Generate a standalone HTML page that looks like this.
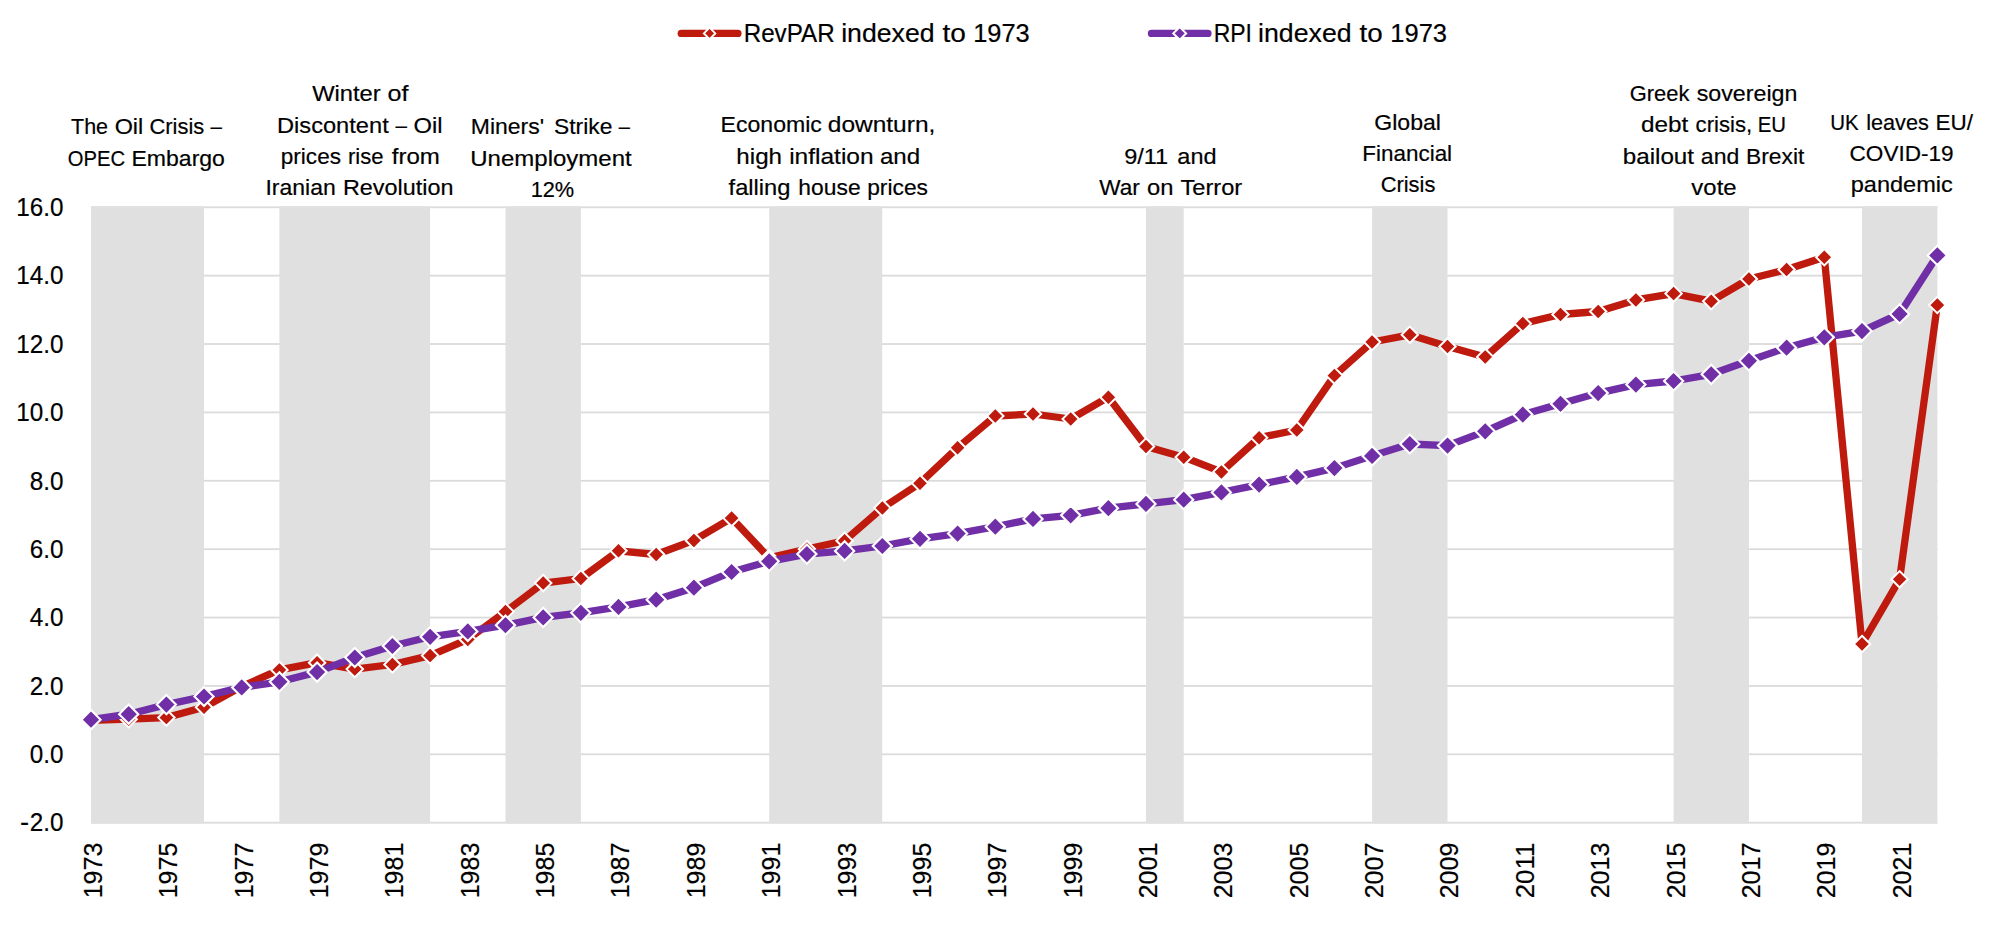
<!DOCTYPE html>
<html lang="en"><head><meta charset="utf-8"><title>RevPAR vs RPI indexed to 1973</title>
<style>html,body{margin:0;padding:0;background:#fff}svg{display:block}text{font-family:"Liberation Sans",Arial,sans-serif;fill:#000;stroke:#000;stroke-width:0.2px}</style></head><body>
<svg width="2000" height="932" viewBox="0 0 2000 932">
<rect width="2000" height="932" fill="#fff"/>
<rect x="91.0" y="821.78" width="1846.5" height="1.8" fill="#dbdbdb"/>
<rect x="91.0" y="753.40" width="1846.5" height="1.8" fill="#dbdbdb"/>
<rect x="91.0" y="685.02" width="1846.5" height="1.8" fill="#dbdbdb"/>
<rect x="91.0" y="616.64" width="1846.5" height="1.8" fill="#dbdbdb"/>
<rect x="91.0" y="548.26" width="1846.5" height="1.8" fill="#dbdbdb"/>
<rect x="91.0" y="479.88" width="1846.5" height="1.8" fill="#dbdbdb"/>
<rect x="91.0" y="411.50" width="1846.5" height="1.8" fill="#dbdbdb"/>
<rect x="91.0" y="343.12" width="1846.5" height="1.8" fill="#dbdbdb"/>
<rect x="91.0" y="274.74" width="1846.5" height="1.8" fill="#dbdbdb"/>
<rect x="91.0" y="206.36" width="1846.5" height="1.8" fill="#dbdbdb"/>
<rect x="91.0" y="206.4" width="113.0" height="617.2" fill="#e0e0e0"/>
<rect x="279.4" y="206.4" width="150.7" height="617.2" fill="#e0e0e0"/>
<rect x="505.5" y="206.4" width="75.4" height="617.2" fill="#e0e0e0"/>
<rect x="769.2" y="206.4" width="113.0" height="617.2" fill="#e0e0e0"/>
<rect x="1146.0" y="206.4" width="37.7" height="617.2" fill="#e0e0e0"/>
<rect x="1372.1" y="206.4" width="75.4" height="617.2" fill="#e0e0e0"/>
<rect x="1673.6" y="206.4" width="75.4" height="617.2" fill="#e0e0e0"/>
<rect x="1862.0" y="206.4" width="75.4" height="617.2" fill="#e0e0e0"/>
<text y="831.4" font-size="26"><tspan x="19.9" textLength="9.1" lengthAdjust="spacingAndGlyphs">-</tspan><tspan x="29.78" textLength="33.72" lengthAdjust="spacingAndGlyphs">2.0</tspan></text>
<text x="29.78" y="763.0" font-size="26" textLength="33.72" lengthAdjust="spacingAndGlyphs">0.0</text>
<text x="29.78" y="694.6" font-size="26" textLength="33.72" lengthAdjust="spacingAndGlyphs">2.0</text>
<text x="29.78" y="626.2" font-size="26" textLength="33.72" lengthAdjust="spacingAndGlyphs">4.0</text>
<text x="29.78" y="557.9" font-size="26" textLength="33.72" lengthAdjust="spacingAndGlyphs">6.0</text>
<text x="29.78" y="489.5" font-size="26" textLength="33.72" lengthAdjust="spacingAndGlyphs">8.0</text>
<text x="16.29" y="421.1" font-size="26" textLength="47.21" lengthAdjust="spacingAndGlyphs">10.0</text>
<text x="16.29" y="352.7" font-size="26" textLength="47.21" lengthAdjust="spacingAndGlyphs">12.0</text>
<text x="16.29" y="284.3" font-size="26" textLength="47.21" lengthAdjust="spacingAndGlyphs">14.0</text>
<text x="16.29" y="216.0" font-size="26" textLength="47.21" lengthAdjust="spacingAndGlyphs">16.0</text>
<text transform="translate(101.9 898.3) rotate(-90)" font-size="26" textLength="55.6" lengthAdjust="spacingAndGlyphs">1973</text>
<text transform="translate(177.3 898.3) rotate(-90)" font-size="26" textLength="55.6" lengthAdjust="spacingAndGlyphs">1975</text>
<text transform="translate(252.6 898.3) rotate(-90)" font-size="26" textLength="55.6" lengthAdjust="spacingAndGlyphs">1977</text>
<text transform="translate(328.0 898.3) rotate(-90)" font-size="26" textLength="55.6" lengthAdjust="spacingAndGlyphs">1979</text>
<text transform="translate(403.3 898.3) rotate(-90)" font-size="26" textLength="55.6" lengthAdjust="spacingAndGlyphs">1981</text>
<text transform="translate(478.7 898.3) rotate(-90)" font-size="26" textLength="55.6" lengthAdjust="spacingAndGlyphs">1983</text>
<text transform="translate(554.1 898.3) rotate(-90)" font-size="26" textLength="55.6" lengthAdjust="spacingAndGlyphs">1985</text>
<text transform="translate(629.4 898.3) rotate(-90)" font-size="26" textLength="55.6" lengthAdjust="spacingAndGlyphs">1987</text>
<text transform="translate(704.8 898.3) rotate(-90)" font-size="26" textLength="55.6" lengthAdjust="spacingAndGlyphs">1989</text>
<text transform="translate(780.1 898.3) rotate(-90)" font-size="26" textLength="55.6" lengthAdjust="spacingAndGlyphs">1991</text>
<text transform="translate(855.5 898.3) rotate(-90)" font-size="26" textLength="55.6" lengthAdjust="spacingAndGlyphs">1993</text>
<text transform="translate(930.9 898.3) rotate(-90)" font-size="26" textLength="55.6" lengthAdjust="spacingAndGlyphs">1995</text>
<text transform="translate(1006.2 898.3) rotate(-90)" font-size="26" textLength="55.6" lengthAdjust="spacingAndGlyphs">1997</text>
<text transform="translate(1081.6 898.3) rotate(-90)" font-size="26" textLength="55.6" lengthAdjust="spacingAndGlyphs">1999</text>
<text transform="translate(1156.9 898.3) rotate(-90)" font-size="26" textLength="55.6" lengthAdjust="spacingAndGlyphs">2001</text>
<text transform="translate(1232.3 898.3) rotate(-90)" font-size="26" textLength="55.6" lengthAdjust="spacingAndGlyphs">2003</text>
<text transform="translate(1307.7 898.3) rotate(-90)" font-size="26" textLength="55.6" lengthAdjust="spacingAndGlyphs">2005</text>
<text transform="translate(1383.0 898.3) rotate(-90)" font-size="26" textLength="55.6" lengthAdjust="spacingAndGlyphs">2007</text>
<text transform="translate(1458.4 898.3) rotate(-90)" font-size="26" textLength="55.6" lengthAdjust="spacingAndGlyphs">2009</text>
<text transform="translate(1533.7 898.3) rotate(-90)" font-size="26" textLength="55.6" lengthAdjust="spacingAndGlyphs">2011</text>
<text transform="translate(1609.1 898.3) rotate(-90)" font-size="26" textLength="55.6" lengthAdjust="spacingAndGlyphs">2013</text>
<text transform="translate(1684.5 898.3) rotate(-90)" font-size="26" textLength="55.6" lengthAdjust="spacingAndGlyphs">2015</text>
<text transform="translate(1759.8 898.3) rotate(-90)" font-size="26" textLength="55.6" lengthAdjust="spacingAndGlyphs">2017</text>
<text transform="translate(1835.2 898.3) rotate(-90)" font-size="26" textLength="55.6" lengthAdjust="spacingAndGlyphs">2019</text>
<text transform="translate(1910.5 898.3) rotate(-90)" font-size="26" textLength="55.6" lengthAdjust="spacingAndGlyphs">2021</text>
<path d="M91.0 720.3 L128.7 719.2 L166.4 717.6 L204.0 707.2 L241.7 686.5 L279.4 669.9 L317.1 662.7 L354.8 669.1 L392.4 664.5 L430.1 655.6 L467.8 639.4 L505.5 611.6 L543.2 583.1 L580.8 578.5 L618.5 550.8 L656.2 554.5 L693.9 540.4 L731.6 518.1 L769.2 557.9 L806.9 549.0 L844.6 540.8 L882.3 508.0 L920.0 483.2 L957.6 447.7 L995.3 416.0 L1033.0 414.0 L1070.7 419.0 L1108.4 397.2 L1146.0 446.5 L1183.7 457.2 L1221.4 471.9 L1259.1 437.7 L1296.8 430.0 L1334.4 375.6 L1372.1 342.0 L1409.8 334.8 L1447.5 346.5 L1485.2 356.9 L1522.8 323.6 L1560.5 314.5 L1598.2 311.5 L1635.9 299.9 L1673.6 293.6 L1711.2 301.2 L1748.9 279.0 L1786.6 269.5 L1824.3 257.2 L1862.0 644.0 L1899.6 579.3 L1937.3 305.1" fill="none" stroke="#be1a0e" stroke-width="7.3" stroke-linejoin="round" stroke-linecap="round"/>
<path d="M91.0 712.1 L99.2 720.3 L91.0 728.5 L82.8 720.3Z" fill="#be1a0e" stroke="#fff" stroke-width="2.0" stroke-linejoin="miter"/>
<path d="M128.7 711.0 L136.9 719.2 L128.7 727.4 L120.5 719.2Z" fill="#be1a0e" stroke="#fff" stroke-width="2.0" stroke-linejoin="miter"/>
<path d="M166.4 709.4 L174.6 717.6 L166.4 725.8 L158.2 717.6Z" fill="#be1a0e" stroke="#fff" stroke-width="2.0" stroke-linejoin="miter"/>
<path d="M204.0 699.0 L212.2 707.2 L204.0 715.4 L195.8 707.2Z" fill="#be1a0e" stroke="#fff" stroke-width="2.0" stroke-linejoin="miter"/>
<path d="M241.7 678.3 L249.9 686.5 L241.7 694.7 L233.5 686.5Z" fill="#be1a0e" stroke="#fff" stroke-width="2.0" stroke-linejoin="miter"/>
<path d="M279.4 661.7 L287.6 669.9 L279.4 678.1 L271.2 669.9Z" fill="#be1a0e" stroke="#fff" stroke-width="2.0" stroke-linejoin="miter"/>
<path d="M317.1 654.5 L325.3 662.7 L317.1 670.9 L308.9 662.7Z" fill="#be1a0e" stroke="#fff" stroke-width="2.0" stroke-linejoin="miter"/>
<path d="M354.8 660.9 L363.0 669.1 L354.8 677.3 L346.6 669.1Z" fill="#be1a0e" stroke="#fff" stroke-width="2.0" stroke-linejoin="miter"/>
<path d="M392.4 656.3 L400.6 664.5 L392.4 672.7 L384.2 664.5Z" fill="#be1a0e" stroke="#fff" stroke-width="2.0" stroke-linejoin="miter"/>
<path d="M430.1 647.4 L438.3 655.6 L430.1 663.8 L421.9 655.6Z" fill="#be1a0e" stroke="#fff" stroke-width="2.0" stroke-linejoin="miter"/>
<path d="M467.8 631.2 L476.0 639.4 L467.8 647.6 L459.6 639.4Z" fill="#be1a0e" stroke="#fff" stroke-width="2.0" stroke-linejoin="miter"/>
<path d="M505.5 603.4 L513.7 611.6 L505.5 619.8 L497.3 611.6Z" fill="#be1a0e" stroke="#fff" stroke-width="2.0" stroke-linejoin="miter"/>
<path d="M543.2 574.9 L551.4 583.1 L543.2 591.3 L535.0 583.1Z" fill="#be1a0e" stroke="#fff" stroke-width="2.0" stroke-linejoin="miter"/>
<path d="M580.8 570.3 L589.0 578.5 L580.8 586.7 L572.6 578.5Z" fill="#be1a0e" stroke="#fff" stroke-width="2.0" stroke-linejoin="miter"/>
<path d="M618.5 542.6 L626.7 550.8 L618.5 559.0 L610.3 550.8Z" fill="#be1a0e" stroke="#fff" stroke-width="2.0" stroke-linejoin="miter"/>
<path d="M656.2 546.3 L664.4 554.5 L656.2 562.7 L648.0 554.5Z" fill="#be1a0e" stroke="#fff" stroke-width="2.0" stroke-linejoin="miter"/>
<path d="M693.9 532.2 L702.1 540.4 L693.9 548.6 L685.7 540.4Z" fill="#be1a0e" stroke="#fff" stroke-width="2.0" stroke-linejoin="miter"/>
<path d="M731.6 509.9 L739.8 518.1 L731.6 526.3 L723.4 518.1Z" fill="#be1a0e" stroke="#fff" stroke-width="2.0" stroke-linejoin="miter"/>
<path d="M769.2 549.7 L777.4 557.9 L769.2 566.1 L761.0 557.9Z" fill="#be1a0e" stroke="#fff" stroke-width="2.0" stroke-linejoin="miter"/>
<path d="M806.9 540.8 L815.1 549.0 L806.9 557.2 L798.7 549.0Z" fill="#be1a0e" stroke="#fff" stroke-width="2.0" stroke-linejoin="miter"/>
<path d="M844.6 532.6 L852.8 540.8 L844.6 549.0 L836.4 540.8Z" fill="#be1a0e" stroke="#fff" stroke-width="2.0" stroke-linejoin="miter"/>
<path d="M882.3 499.8 L890.5 508.0 L882.3 516.2 L874.1 508.0Z" fill="#be1a0e" stroke="#fff" stroke-width="2.0" stroke-linejoin="miter"/>
<path d="M920.0 475.0 L928.2 483.2 L920.0 491.4 L911.8 483.2Z" fill="#be1a0e" stroke="#fff" stroke-width="2.0" stroke-linejoin="miter"/>
<path d="M957.6 439.5 L965.8 447.7 L957.6 455.9 L949.4 447.7Z" fill="#be1a0e" stroke="#fff" stroke-width="2.0" stroke-linejoin="miter"/>
<path d="M995.3 407.8 L1003.5 416.0 L995.3 424.2 L987.1 416.0Z" fill="#be1a0e" stroke="#fff" stroke-width="2.0" stroke-linejoin="miter"/>
<path d="M1033.0 405.8 L1041.2 414.0 L1033.0 422.2 L1024.8 414.0Z" fill="#be1a0e" stroke="#fff" stroke-width="2.0" stroke-linejoin="miter"/>
<path d="M1070.7 410.8 L1078.9 419.0 L1070.7 427.2 L1062.5 419.0Z" fill="#be1a0e" stroke="#fff" stroke-width="2.0" stroke-linejoin="miter"/>
<path d="M1108.4 389.0 L1116.6 397.2 L1108.4 405.4 L1100.2 397.2Z" fill="#be1a0e" stroke="#fff" stroke-width="2.0" stroke-linejoin="miter"/>
<path d="M1146.0 438.3 L1154.2 446.5 L1146.0 454.7 L1137.8 446.5Z" fill="#be1a0e" stroke="#fff" stroke-width="2.0" stroke-linejoin="miter"/>
<path d="M1183.7 449.0 L1191.9 457.2 L1183.7 465.4 L1175.5 457.2Z" fill="#be1a0e" stroke="#fff" stroke-width="2.0" stroke-linejoin="miter"/>
<path d="M1221.4 463.7 L1229.6 471.9 L1221.4 480.1 L1213.2 471.9Z" fill="#be1a0e" stroke="#fff" stroke-width="2.0" stroke-linejoin="miter"/>
<path d="M1259.1 429.5 L1267.3 437.7 L1259.1 445.9 L1250.9 437.7Z" fill="#be1a0e" stroke="#fff" stroke-width="2.0" stroke-linejoin="miter"/>
<path d="M1296.8 421.8 L1305.0 430.0 L1296.8 438.2 L1288.6 430.0Z" fill="#be1a0e" stroke="#fff" stroke-width="2.0" stroke-linejoin="miter"/>
<path d="M1334.4 367.4 L1342.6 375.6 L1334.4 383.8 L1326.2 375.6Z" fill="#be1a0e" stroke="#fff" stroke-width="2.0" stroke-linejoin="miter"/>
<path d="M1372.1 333.8 L1380.3 342.0 L1372.1 350.2 L1363.9 342.0Z" fill="#be1a0e" stroke="#fff" stroke-width="2.0" stroke-linejoin="miter"/>
<path d="M1409.8 326.6 L1418.0 334.8 L1409.8 343.0 L1401.6 334.8Z" fill="#be1a0e" stroke="#fff" stroke-width="2.0" stroke-linejoin="miter"/>
<path d="M1447.5 338.3 L1455.7 346.5 L1447.5 354.7 L1439.3 346.5Z" fill="#be1a0e" stroke="#fff" stroke-width="2.0" stroke-linejoin="miter"/>
<path d="M1485.2 348.7 L1493.4 356.9 L1485.2 365.1 L1477.0 356.9Z" fill="#be1a0e" stroke="#fff" stroke-width="2.0" stroke-linejoin="miter"/>
<path d="M1522.8 315.4 L1531.0 323.6 L1522.8 331.8 L1514.6 323.6Z" fill="#be1a0e" stroke="#fff" stroke-width="2.0" stroke-linejoin="miter"/>
<path d="M1560.5 306.3 L1568.7 314.5 L1560.5 322.7 L1552.3 314.5Z" fill="#be1a0e" stroke="#fff" stroke-width="2.0" stroke-linejoin="miter"/>
<path d="M1598.2 303.3 L1606.4 311.5 L1598.2 319.7 L1590.0 311.5Z" fill="#be1a0e" stroke="#fff" stroke-width="2.0" stroke-linejoin="miter"/>
<path d="M1635.9 291.7 L1644.1 299.9 L1635.9 308.1 L1627.7 299.9Z" fill="#be1a0e" stroke="#fff" stroke-width="2.0" stroke-linejoin="miter"/>
<path d="M1673.6 285.4 L1681.8 293.6 L1673.6 301.8 L1665.4 293.6Z" fill="#be1a0e" stroke="#fff" stroke-width="2.0" stroke-linejoin="miter"/>
<path d="M1711.2 293.1 L1719.4 301.2 L1711.2 309.4 L1703.0 301.2Z" fill="#be1a0e" stroke="#fff" stroke-width="2.0" stroke-linejoin="miter"/>
<path d="M1748.9 270.8 L1757.1 279.0 L1748.9 287.2 L1740.7 279.0Z" fill="#be1a0e" stroke="#fff" stroke-width="2.0" stroke-linejoin="miter"/>
<path d="M1786.6 261.3 L1794.8 269.5 L1786.6 277.7 L1778.4 269.5Z" fill="#be1a0e" stroke="#fff" stroke-width="2.0" stroke-linejoin="miter"/>
<path d="M1824.3 249.0 L1832.5 257.2 L1824.3 265.4 L1816.1 257.2Z" fill="#be1a0e" stroke="#fff" stroke-width="2.0" stroke-linejoin="miter"/>
<path d="M1862.0 635.8 L1870.2 644.0 L1862.0 652.2 L1853.8 644.0Z" fill="#be1a0e" stroke="#fff" stroke-width="2.0" stroke-linejoin="miter"/>
<path d="M1899.6 571.1 L1907.8 579.3 L1899.6 587.5 L1891.4 579.3Z" fill="#be1a0e" stroke="#fff" stroke-width="2.0" stroke-linejoin="miter"/>
<path d="M1937.3 296.9 L1945.5 305.1 L1937.3 313.2 L1929.1 305.1Z" fill="#be1a0e" stroke="#fff" stroke-width="2.0" stroke-linejoin="miter"/>
<path d="M91.0 719.7 L128.7 714.2 L166.4 704.6 L204.0 696.5 L241.7 687.4 L279.4 681.8 L317.1 672.1 L354.8 657.5 L392.4 646.0 L430.1 636.8 L467.8 631.4 L505.5 625.2 L543.2 617.4 L580.8 612.8 L618.5 606.9 L656.2 599.7 L693.9 587.7 L731.6 572.0 L769.2 561.3 L806.9 554.1 L844.6 550.9 L882.3 546.0 L920.0 538.8 L957.6 533.6 L995.3 526.7 L1033.0 518.9 L1070.7 515.3 L1108.4 508.2 L1146.0 503.9 L1183.7 499.7 L1221.4 492.4 L1259.1 484.6 L1296.8 476.9 L1334.4 468.1 L1372.1 455.9 L1409.8 444.0 L1447.5 445.6 L1485.2 431.3 L1522.8 414.6 L1560.5 403.8 L1598.2 393.1 L1635.9 384.6 L1673.6 381.0 L1711.2 374.3 L1748.9 360.8 L1786.6 347.7 L1824.3 337.3 L1862.0 331.1 L1899.6 313.9 L1937.3 255.4" fill="none" stroke="#702fa6" stroke-width="7.3" stroke-linejoin="round" stroke-linecap="round"/>
<path d="M91.0 710.1 L100.6 719.7 L91.0 729.3 L81.4 719.7Z" fill="#702fa6" stroke="#fff" stroke-width="2.1" stroke-linejoin="miter"/>
<path d="M128.7 704.6 L138.3 714.2 L128.7 723.8 L119.1 714.2Z" fill="#702fa6" stroke="#fff" stroke-width="2.1" stroke-linejoin="miter"/>
<path d="M166.4 695.0 L176.0 704.6 L166.4 714.2 L156.8 704.6Z" fill="#702fa6" stroke="#fff" stroke-width="2.1" stroke-linejoin="miter"/>
<path d="M204.0 686.9 L213.6 696.5 L204.0 706.1 L194.4 696.5Z" fill="#702fa6" stroke="#fff" stroke-width="2.1" stroke-linejoin="miter"/>
<path d="M241.7 677.8 L251.3 687.4 L241.7 697.0 L232.1 687.4Z" fill="#702fa6" stroke="#fff" stroke-width="2.1" stroke-linejoin="miter"/>
<path d="M279.4 672.2 L289.0 681.8 L279.4 691.4 L269.8 681.8Z" fill="#702fa6" stroke="#fff" stroke-width="2.1" stroke-linejoin="miter"/>
<path d="M317.1 662.5 L326.7 672.1 L317.1 681.7 L307.5 672.1Z" fill="#702fa6" stroke="#fff" stroke-width="2.1" stroke-linejoin="miter"/>
<path d="M354.8 647.9 L364.4 657.5 L354.8 667.1 L345.2 657.5Z" fill="#702fa6" stroke="#fff" stroke-width="2.1" stroke-linejoin="miter"/>
<path d="M392.4 636.4 L402.0 646.0 L392.4 655.6 L382.8 646.0Z" fill="#702fa6" stroke="#fff" stroke-width="2.1" stroke-linejoin="miter"/>
<path d="M430.1 627.2 L439.7 636.8 L430.1 646.4 L420.5 636.8Z" fill="#702fa6" stroke="#fff" stroke-width="2.1" stroke-linejoin="miter"/>
<path d="M467.8 621.8 L477.4 631.4 L467.8 641.0 L458.2 631.4Z" fill="#702fa6" stroke="#fff" stroke-width="2.1" stroke-linejoin="miter"/>
<path d="M505.5 615.6 L515.1 625.2 L505.5 634.8 L495.9 625.2Z" fill="#702fa6" stroke="#fff" stroke-width="2.1" stroke-linejoin="miter"/>
<path d="M543.2 607.8 L552.8 617.4 L543.2 627.0 L533.6 617.4Z" fill="#702fa6" stroke="#fff" stroke-width="2.1" stroke-linejoin="miter"/>
<path d="M580.8 603.2 L590.4 612.8 L580.8 622.4 L571.2 612.8Z" fill="#702fa6" stroke="#fff" stroke-width="2.1" stroke-linejoin="miter"/>
<path d="M618.5 597.3 L628.1 606.9 L618.5 616.5 L608.9 606.9Z" fill="#702fa6" stroke="#fff" stroke-width="2.1" stroke-linejoin="miter"/>
<path d="M656.2 590.1 L665.8 599.7 L656.2 609.3 L646.6 599.7Z" fill="#702fa6" stroke="#fff" stroke-width="2.1" stroke-linejoin="miter"/>
<path d="M693.9 578.1 L703.5 587.7 L693.9 597.3 L684.3 587.7Z" fill="#702fa6" stroke="#fff" stroke-width="2.1" stroke-linejoin="miter"/>
<path d="M731.6 562.4 L741.2 572.0 L731.6 581.6 L722.0 572.0Z" fill="#702fa6" stroke="#fff" stroke-width="2.1" stroke-linejoin="miter"/>
<path d="M769.2 551.7 L778.8 561.3 L769.2 570.9 L759.6 561.3Z" fill="#702fa6" stroke="#fff" stroke-width="2.1" stroke-linejoin="miter"/>
<path d="M806.9 544.5 L816.5 554.1 L806.9 563.7 L797.3 554.1Z" fill="#702fa6" stroke="#fff" stroke-width="2.1" stroke-linejoin="miter"/>
<path d="M844.6 541.3 L854.2 550.9 L844.6 560.5 L835.0 550.9Z" fill="#702fa6" stroke="#fff" stroke-width="2.1" stroke-linejoin="miter"/>
<path d="M882.3 536.4 L891.9 546.0 L882.3 555.6 L872.7 546.0Z" fill="#702fa6" stroke="#fff" stroke-width="2.1" stroke-linejoin="miter"/>
<path d="M920.0 529.2 L929.6 538.8 L920.0 548.4 L910.4 538.8Z" fill="#702fa6" stroke="#fff" stroke-width="2.1" stroke-linejoin="miter"/>
<path d="M957.6 524.0 L967.2 533.6 L957.6 543.2 L948.0 533.6Z" fill="#702fa6" stroke="#fff" stroke-width="2.1" stroke-linejoin="miter"/>
<path d="M995.3 517.1 L1004.9 526.7 L995.3 536.3 L985.7 526.7Z" fill="#702fa6" stroke="#fff" stroke-width="2.1" stroke-linejoin="miter"/>
<path d="M1033.0 509.3 L1042.6 518.9 L1033.0 528.5 L1023.4 518.9Z" fill="#702fa6" stroke="#fff" stroke-width="2.1" stroke-linejoin="miter"/>
<path d="M1070.7 505.7 L1080.3 515.3 L1070.7 524.9 L1061.1 515.3Z" fill="#702fa6" stroke="#fff" stroke-width="2.1" stroke-linejoin="miter"/>
<path d="M1108.4 498.6 L1118.0 508.2 L1108.4 517.8 L1098.8 508.2Z" fill="#702fa6" stroke="#fff" stroke-width="2.1" stroke-linejoin="miter"/>
<path d="M1146.0 494.3 L1155.6 503.9 L1146.0 513.5 L1136.4 503.9Z" fill="#702fa6" stroke="#fff" stroke-width="2.1" stroke-linejoin="miter"/>
<path d="M1183.7 490.1 L1193.3 499.7 L1183.7 509.3 L1174.1 499.7Z" fill="#702fa6" stroke="#fff" stroke-width="2.1" stroke-linejoin="miter"/>
<path d="M1221.4 482.8 L1231.0 492.4 L1221.4 502.0 L1211.8 492.4Z" fill="#702fa6" stroke="#fff" stroke-width="2.1" stroke-linejoin="miter"/>
<path d="M1259.1 475.0 L1268.7 484.6 L1259.1 494.2 L1249.5 484.6Z" fill="#702fa6" stroke="#fff" stroke-width="2.1" stroke-linejoin="miter"/>
<path d="M1296.8 467.3 L1306.4 476.9 L1296.8 486.5 L1287.2 476.9Z" fill="#702fa6" stroke="#fff" stroke-width="2.1" stroke-linejoin="miter"/>
<path d="M1334.4 458.5 L1344.0 468.1 L1334.4 477.7 L1324.8 468.1Z" fill="#702fa6" stroke="#fff" stroke-width="2.1" stroke-linejoin="miter"/>
<path d="M1372.1 446.3 L1381.7 455.9 L1372.1 465.5 L1362.5 455.9Z" fill="#702fa6" stroke="#fff" stroke-width="2.1" stroke-linejoin="miter"/>
<path d="M1409.8 434.4 L1419.4 444.0 L1409.8 453.6 L1400.2 444.0Z" fill="#702fa6" stroke="#fff" stroke-width="2.1" stroke-linejoin="miter"/>
<path d="M1447.5 436.0 L1457.1 445.6 L1447.5 455.2 L1437.9 445.6Z" fill="#702fa6" stroke="#fff" stroke-width="2.1" stroke-linejoin="miter"/>
<path d="M1485.2 421.7 L1494.8 431.3 L1485.2 440.9 L1475.6 431.3Z" fill="#702fa6" stroke="#fff" stroke-width="2.1" stroke-linejoin="miter"/>
<path d="M1522.8 405.0 L1532.4 414.6 L1522.8 424.2 L1513.2 414.6Z" fill="#702fa6" stroke="#fff" stroke-width="2.1" stroke-linejoin="miter"/>
<path d="M1560.5 394.2 L1570.1 403.8 L1560.5 413.4 L1550.9 403.8Z" fill="#702fa6" stroke="#fff" stroke-width="2.1" stroke-linejoin="miter"/>
<path d="M1598.2 383.5 L1607.8 393.1 L1598.2 402.7 L1588.6 393.1Z" fill="#702fa6" stroke="#fff" stroke-width="2.1" stroke-linejoin="miter"/>
<path d="M1635.9 375.0 L1645.5 384.6 L1635.9 394.2 L1626.3 384.6Z" fill="#702fa6" stroke="#fff" stroke-width="2.1" stroke-linejoin="miter"/>
<path d="M1673.6 371.4 L1683.2 381.0 L1673.6 390.6 L1664.0 381.0Z" fill="#702fa6" stroke="#fff" stroke-width="2.1" stroke-linejoin="miter"/>
<path d="M1711.2 364.7 L1720.8 374.3 L1711.2 383.9 L1701.6 374.3Z" fill="#702fa6" stroke="#fff" stroke-width="2.1" stroke-linejoin="miter"/>
<path d="M1748.9 351.2 L1758.5 360.8 L1748.9 370.4 L1739.3 360.8Z" fill="#702fa6" stroke="#fff" stroke-width="2.1" stroke-linejoin="miter"/>
<path d="M1786.6 338.1 L1796.2 347.7 L1786.6 357.3 L1777.0 347.7Z" fill="#702fa6" stroke="#fff" stroke-width="2.1" stroke-linejoin="miter"/>
<path d="M1824.3 327.7 L1833.9 337.3 L1824.3 346.9 L1814.7 337.3Z" fill="#702fa6" stroke="#fff" stroke-width="2.1" stroke-linejoin="miter"/>
<path d="M1862.0 321.5 L1871.6 331.1 L1862.0 340.7 L1852.4 331.1Z" fill="#702fa6" stroke="#fff" stroke-width="2.1" stroke-linejoin="miter"/>
<path d="M1899.6 304.3 L1909.2 313.9 L1899.6 323.5 L1890.0 313.9Z" fill="#702fa6" stroke="#fff" stroke-width="2.1" stroke-linejoin="miter"/>
<path d="M1937.3 245.8 L1946.9 255.4 L1937.3 265.0 L1927.7 255.4Z" fill="#702fa6" stroke="#fff" stroke-width="2.1" stroke-linejoin="miter"/>
<path d="M681.3 33.4 L737.9 33.4" stroke="#be1a0e" stroke-width="7.4" stroke-linecap="round" fill="none"/>
<path d="M709.6 27.7 L715.3 33.4 L709.6 39.1 L703.9 33.4Z" fill="#be1a0e" stroke="#fff" stroke-width="1.9"/>
<path d="M1151.5 33.4 L1207.9 33.4" stroke="#702fa6" stroke-width="7.4" stroke-linecap="round" fill="none"/>
<path d="M1179.7 27.0 L1186.1 33.4 L1179.7 39.8 L1173.3 33.4Z" fill="#702fa6" stroke="#fff" stroke-width="2.0"/>
<text y="41.8" font-size="25"><tspan x="743.66" textLength="90.97" lengthAdjust="spacingAndGlyphs">RevPAR</tspan> <tspan x="841.15" textLength="93.40" lengthAdjust="spacingAndGlyphs">indexed</tspan> <tspan x="942.44" textLength="23.38" lengthAdjust="spacingAndGlyphs">to</tspan> <tspan x="973.16" textLength="56.49" lengthAdjust="spacingAndGlyphs">1973</tspan></text>
<text y="41.7" font-size="25"><tspan x="1213.76" textLength="38.26" lengthAdjust="spacingAndGlyphs">RPI</tspan> <tspan x="1258.05" textLength="93.60" lengthAdjust="spacingAndGlyphs">indexed</tspan> <tspan x="1359.59" textLength="23.18" lengthAdjust="spacingAndGlyphs">to</tspan> <tspan x="1390.35" textLength="56.69" lengthAdjust="spacingAndGlyphs">1973</tspan></text>
<text y="134.3" font-size="22.5"><tspan x="71.00" textLength="37.08" lengthAdjust="spacingAndGlyphs">The</tspan> <tspan x="114.65" textLength="28.59" lengthAdjust="spacingAndGlyphs">Oil</tspan> <tspan x="149.47" textLength="54.76" lengthAdjust="spacingAndGlyphs">Crisis</tspan> <tspan x="210.41" textLength="11.48" lengthAdjust="spacingAndGlyphs">–</tspan></text>
<text y="165.6" font-size="22.5"><tspan x="67.79" textLength="57.21" lengthAdjust="spacingAndGlyphs">OPEC</tspan> <tspan x="131.47" textLength="93.44" lengthAdjust="spacingAndGlyphs">Embargo</tspan></text>
<text y="101.2" font-size="22.5"><tspan x="312.19" textLength="68.51" lengthAdjust="spacingAndGlyphs">Winter</tspan> <tspan x="387.52" textLength="20.93" lengthAdjust="spacingAndGlyphs">of</tspan></text>
<text y="132.7" font-size="22.5"><tspan x="277.00" textLength="111.71" lengthAdjust="spacingAndGlyphs">Discontent</tspan> <tspan x="395.41" textLength="11.48" lengthAdjust="spacingAndGlyphs">–</tspan> <tspan x="413.48" textLength="29.04" lengthAdjust="spacingAndGlyphs">Oil</tspan></text>
<text y="163.9" font-size="22.5"><tspan x="280.79" textLength="60.21" lengthAdjust="spacingAndGlyphs">prices</tspan> <tspan x="348.00" textLength="35.54" lengthAdjust="spacingAndGlyphs">rise</tspan> <tspan x="391.79" textLength="48.10" lengthAdjust="spacingAndGlyphs">from</tspan></text>
<text y="195.3" font-size="22.5"><tspan x="265.44" textLength="70.29" lengthAdjust="spacingAndGlyphs">Iranian</tspan> <tspan x="342.98" textLength="110.44" lengthAdjust="spacingAndGlyphs">Revolution</tspan></text>
<text y="134.2" font-size="22.5"><tspan x="470.86" textLength="73.27" lengthAdjust="spacingAndGlyphs">Miners'</tspan> <tspan x="554.00" textLength="58.32" lengthAdjust="spacingAndGlyphs">Strike</tspan> <tspan x="618.82" textLength="11.19" lengthAdjust="spacingAndGlyphs">–</tspan></text>
<text y="165.6" font-size="22.5"><tspan x="470.29" textLength="161.41" lengthAdjust="spacingAndGlyphs">Unemployment</tspan></text>
<text y="196.7" font-size="22.5"><tspan x="530.69" textLength="43.53" lengthAdjust="spacingAndGlyphs">12%</tspan></text>
<text y="132.3" font-size="22.5"><tspan x="720.58" textLength="101.33" lengthAdjust="spacingAndGlyphs">Economic</tspan> <tspan x="827.78" textLength="107.56" lengthAdjust="spacingAndGlyphs">downturn,</tspan></text>
<text y="163.6" font-size="22.5"><tspan x="736.37" textLength="45.68" lengthAdjust="spacingAndGlyphs">high</tspan> <tspan x="789.18" textLength="84.44" lengthAdjust="spacingAndGlyphs">inflation</tspan> <tspan x="879.98" textLength="40.17" lengthAdjust="spacingAndGlyphs">and</tspan></text>
<text y="194.7" font-size="22.5"><tspan x="728.59" textLength="61.90" lengthAdjust="spacingAndGlyphs">falling</tspan> <tspan x="798.39" textLength="62.21" lengthAdjust="spacingAndGlyphs">house</tspan> <tspan x="867.19" textLength="60.81" lengthAdjust="spacingAndGlyphs">prices</tspan></text>
<text y="163.8" font-size="22.5"><tspan x="1124.17" textLength="44.05" lengthAdjust="spacingAndGlyphs">9/11</tspan> <tspan x="1177.38" textLength="39.22" lengthAdjust="spacingAndGlyphs">and</tspan></text>
<text y="195.2" font-size="22.5"><tspan x="1099.17" textLength="40.61" lengthAdjust="spacingAndGlyphs">War</tspan> <tspan x="1147.00" textLength="26.45" lengthAdjust="spacingAndGlyphs">on</tspan> <tspan x="1180.40" textLength="61.80" lengthAdjust="spacingAndGlyphs">Terror</tspan></text>
<text y="129.9" font-size="22.5"><tspan x="1374.29" textLength="66.73" lengthAdjust="spacingAndGlyphs">Global</tspan></text>
<text y="161.3" font-size="22.5"><tspan x="1362.27" textLength="89.85" lengthAdjust="spacingAndGlyphs">Financial</tspan></text>
<text y="192.4" font-size="22.5"><tspan x="1380.69" textLength="54.64" lengthAdjust="spacingAndGlyphs">Crisis</tspan></text>
<text y="101.0" font-size="22.5"><tspan x="1629.81" textLength="59.60" lengthAdjust="spacingAndGlyphs">Greek</tspan> <tspan x="1696.69" textLength="100.72" lengthAdjust="spacingAndGlyphs">sovereign</tspan></text>
<text y="132.4" font-size="22.5"><tspan x="1641.02" textLength="47.29" lengthAdjust="spacingAndGlyphs">debt</tspan> <tspan x="1695.57" textLength="56.59" lengthAdjust="spacingAndGlyphs">crisis,</tspan> <tspan x="1757.80" textLength="28.26" lengthAdjust="spacingAndGlyphs">EU</tspan></text>
<text y="163.8" font-size="22.5"><tspan x="1622.70" textLength="71.40" lengthAdjust="spacingAndGlyphs">bailout</tspan> <tspan x="1700.89" textLength="38.43" lengthAdjust="spacingAndGlyphs">and</tspan> <tspan x="1746.08" textLength="58.23" lengthAdjust="spacingAndGlyphs">Brexit</tspan></text>
<text y="195.2" font-size="22.5"><tspan x="1691.39" textLength="45.21" lengthAdjust="spacingAndGlyphs">vote</tspan></text>
<text y="129.9" font-size="22.5"><tspan x="1830.29" textLength="28.44" lengthAdjust="spacingAndGlyphs">UK</tspan> <tspan x="1866.20" textLength="62.62" lengthAdjust="spacingAndGlyphs">leaves</tspan> <tspan x="1935.47" textLength="37.47" lengthAdjust="spacingAndGlyphs">EU/</tspan></text>
<text y="161.0" font-size="22.5"><tspan x="1849.58" textLength="103.94" lengthAdjust="spacingAndGlyphs">COVID-19</tspan></text>
<text y="192.4" font-size="22.5"><tspan x="1850.69" textLength="102.11" lengthAdjust="spacingAndGlyphs">pandemic</tspan></text>
</svg></body></html>
